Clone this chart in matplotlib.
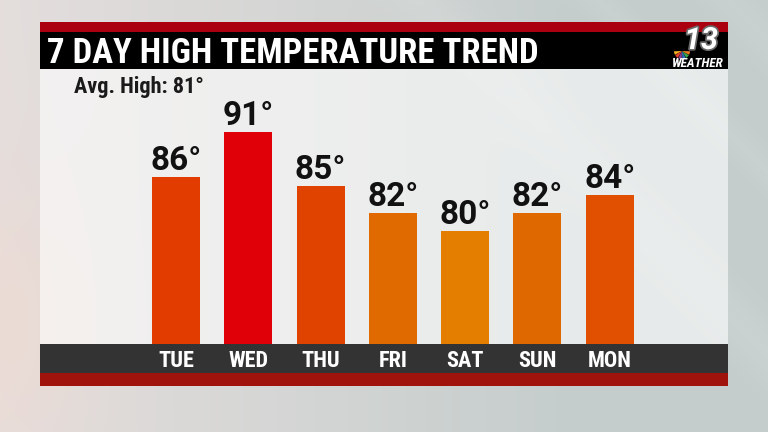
import numpy as np
import matplotlib
matplotlib.use("Agg")
import matplotlib.pyplot as plt
from matplotlib.patches import Rectangle, Wedge
import matplotlib.patheffects as pe
from matplotlib import font_manager as fm

days = ["TUE", "WED", "THU", "FRI", "SAT", "SUN", "MON"]
highs = [86, 91, 85, 82, 80, 82, 84]
bar_colors = ["#e23c00", "#e00008", "#e04200", "#e06a00", "#e47e00", "#e06800", "#e05000"]
title = "7 DAY HIGH TEMPERATURE TREND"
avg_label = "Avg. High: 81°"

W, H = 768, 432


def _w(f):
    w = f.weight
    if isinstance(w, str):
        w = fm.weight_dict.get(w, 400)
    return w


def pick_condensed(style="normal"):
    best, score = None, -1e9
    for f in fm.fontManager.ttflist:
        name = f.name
        st = str(f.stretch)
        cond = st in ("condensed", "semi-condensed", "extra-condensed") or \
            any(k in name for k in ("Narrow", "Condensed", "Cond"))
        if not cond:
            continue
        s = 0
        if f.style != style:
            s -= 4
        s -= abs(_w(f) - 700) / 100
        if "Roboto" in name: s += 3
        if "Noto Sans" in name or "Open Sans" in name: s += 2
        if "Liberation" in name: s += 2.5
        if "extra" in st or "Extra" in name or "Semi" in name: s -= 1.5
        if "Mono" in name or "Serif" in name: s -= 5
        if s > score:
            best, score = f, s
    return best


def props(style="normal"):
    cf = pick_condensed(style)
    if cf is not None:
        return fm.FontProperties(fname=cf.fname)
    return fm.FontProperties(family="DejaVu Sans", weight="bold", stretch="condensed",
                             style=style)


NARROW = props("normal")
NARROW_IT = props("italic")

fig = plt.figure(figsize=(W / 100, H / 100), dpi=100)
ROBOTO = ["Roboto", "DejaVu Sans"]

bg = fig.add_axes([0, 0, 1, 1])
bg.set_xlim(0, W)
bg.set_ylim(H, 0)
bg.axis("off")

xx, yy = np.meshgrid(np.linspace(0, 1, W), np.linspace(0, 1, H))
left = np.array([228, 222, 221]) / 255
right = np.array([196, 205, 204]) / 255
t = np.clip(xx * 1.3, 0, 1)[..., None]
img = left * (1 - t) + right * t
warm = np.exp(-(((xx - 0.0) / 0.12) ** 2 + ((yy - 0.75) / 0.35) ** 2))[..., None]
img = img * (1 - 0.35 * warm) + np.array([250, 215, 200]) / 255 * 0.35 * warm
d = xx * 1.0 - yy * 0.55
for c, w, a in [(0.55, 0.05, 0.10), (0.78, 0.03, 0.08), (0.95, 0.04, 0.08)]:
    s = np.exp(-((d - c) / w) ** 2)[..., None]
    img = img * (1 - a * s) + a * s
bg.imshow(img, extent=[0, W, H, 0], aspect="auto", zorder=0)

bg.add_patch(Rectangle((40, 69), 688, 275, facecolor="white", alpha=0.6, lw=0, zorder=1))
bg.add_patch(Rectangle((40, 22), 688, 10, facecolor="#ab000f", lw=0, zorder=2))
bg.add_patch(Rectangle((40, 32), 688, 37, facecolor="#000000", lw=0, zorder=2))
bg.add_patch(Rectangle((40, 344), 688, 29, facecolor="#333333", lw=0, zorder=2))
bg.add_patch(Rectangle((40, 373), 688, 13, facecolor="#a0120c", lw=0, zorder=2))

bg.text(47, 63, title, color="white", fontproperties=NARROW, fontsize=25,
        va="baseline", ha="left", zorder=3)
bg.text(74, 93, avg_label, color="#1a1a1a", fontproperties=NARROW, fontsize=16,
        va="baseline", ha="left", zorder=3)

# logo
peacock = ["#f2b01e", "#e6402b", "#8a3d8f", "#2a72b8", "#3aa64a", "#f07c22"]
for i, c in enumerate(peacock):
    bg.add_patch(Wedge((682, 51), 8, 180 - i * 30 - 28, 180 - i * 30 - 2,
                       facecolor=c, lw=0, zorder=4))
bg.text(701, 49, "13", color="white", fontsize=22, fontweight="bold", fontstyle="italic",
        family=ROBOTO, ha="center", va="baseline", zorder=5,
        path_effects=[pe.withStroke(linewidth=2.5, foreground="#6a6a6a")])
bg.text(698, 67, "WEATHER", color="white", fontproperties=NARROW_IT, fontsize=9.5,
        ha="center", va="baseline", zorder=5)

ax = fig.add_axes([40 / W, (H - 344) / H, 688 / W, 275 / H])
ax.set_facecolor("none")
x = np.arange(len(days))
ax.bar(x, highs, width=0.664, color=bar_colors, zorder=3)
ax.set_xlim(-1.881, 7.635)
ax.set_ylim(67.4, 97.96)
for s in ax.spines.values():
    s.set_visible(False)
ax.set_xticks([])
ax.set_yticks([])

for xi, v in zip(x, highs):
    ax.annotate(f"{v}°", (xi, v), xytext=(0, 5), textcoords="offset points",
                ha="center", va="baseline", fontsize=24, fontweight="bold",
                family=ROBOTO, color="#111111", zorder=5)

trans = ax.get_xaxis_transform()
for xi, dname in zip(x, days):
    ax.text(xi, -23 / 275, dname, transform=trans, ha="center", va="baseline",
            color="white", fontproperties=NARROW, fontsize=16, clip_on=False, zorder=5)

fig.savefig("out.png", dpi=100)
